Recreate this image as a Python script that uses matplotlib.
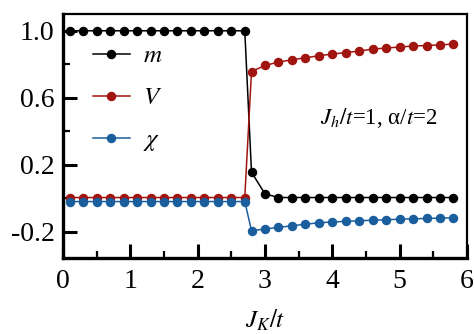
import numpy as np
import matplotlib
matplotlib.use("Agg")
import matplotlib.pyplot as plt
from matplotlib.ticker import MultipleLocator

# J_K/t values: step 0.2 below the jump, then 2.8 ... 5.8
jk_left = [0.1, 0.3, 0.5, 0.7, 0.9, 1.1, 1.3, 1.5, 1.7, 1.9, 2.1, 2.3, 2.5, 2.7]
jk_right = [2.8, 3.0, 3.2, 3.4, 3.6, 3.8, 4.0, 4.2, 4.4, 4.6, 4.8, 5.0, 5.2, 5.4, 5.6, 5.8]
jk = jk_left + jk_right

m_vals = [1.0]*14 + [0.156, 0.027, 0.005, 0.005, 0.005, 0.005, 0.005, 0.005,
                     0.005, 0.005, 0.005, 0.005, 0.005, 0.005, 0.005, 0.005]
V_vals = [0.005]*14 + [0.757, 0.793, 0.813, 0.827, 0.839, 0.851, 0.861, 0.870,
                       0.879, 0.891, 0.897, 0.903, 0.909, 0.912, 0.916, 0.921]
chi_vals = [-0.019]*14 + [-0.193, -0.183, -0.173, -0.164, -0.154, -0.146, -0.141, -0.137,
                          -0.134, -0.130, -0.128, -0.124, -0.122, -0.120, -0.118, -0.116]

plt.rcParams.update({"font.family": "serif",
                     "font.serif": ["Liberation Serif", "DejaVu Serif"],
                     "mathtext.fontset": "stix",
                     "axes.unicode_minus": False})

fig = plt.figure(figsize=(4.74, 3.34), dpi=100)
ax = fig.add_axes([0.133, 0.228, 0.852, 0.730])

ms = 5.8
lw = 1.1
ax.plot(jk, m_vals, '-o', color='black', ms=ms, lw=lw, label=r'$m$')
ax.plot(jk, V_vals, '-o', color='#a0150f', ms=ms, lw=lw, label=r'$V$')
ax.plot(jk, chi_vals, '-o', color='#1a5e9e', ms=ms, lw=lw, label=r'$\chi$')

ax.set_xlim(0, 6)
ax.set_ylim(-0.355, 1.1)
ax.xaxis.set_major_locator(MultipleLocator(1))
ax.xaxis.set_minor_locator(MultipleLocator(0.5))
ax.yaxis.set_minor_locator(MultipleLocator(0.2))
ax.set_yticks([-0.2, 0.2, 0.6, 1.0])
ax.set_yticklabels(['-0.2', '0.2', '0.6', '1.0'])

ax.tick_params(which='both', direction='in', top=False, right=False, labelsize=20)
ax.tick_params(which='major', length=10, width=2.2)
ax.tick_params(which='minor', length=5, width=1.6)
ax.tick_params(axis='x', pad=8)
ax.tick_params(axis='y', pad=6)
for s in ['left', 'bottom']:
    ax.spines[s].set_linewidth(2.4)
for s in ['top', 'right']:
    ax.spines[s].set_linewidth(1.6)

ax.set_xlabel(r'$J_K/t$', fontsize=18, labelpad=10)

ax.text(3.82, 0.445, r'$J_h/t$=1, α/$t$=2', fontsize=16.5, ha='left', va='baseline')

leg = ax.legend(loc='upper left', bbox_to_anchor=(0.03, 0.945), frameon=False,
                fontsize=18, handlelength=1.5, handletextpad=0.5,
                labelspacing=0.78, borderpad=0.2)

fig.savefig('out.png', dpi=100)
